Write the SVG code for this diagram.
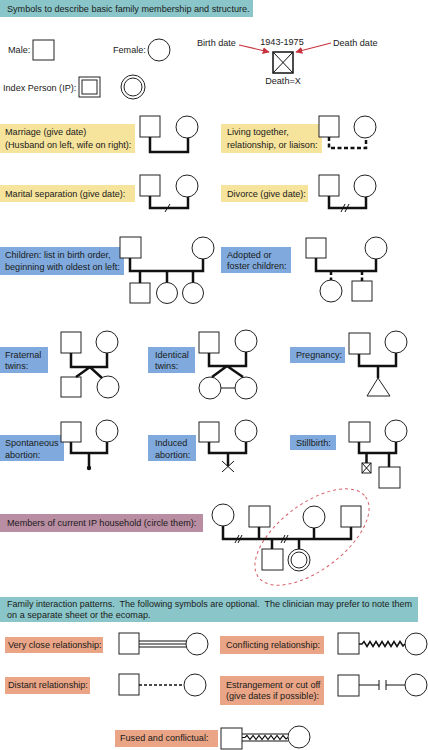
<svg xmlns="http://www.w3.org/2000/svg" width="428" height="750" viewBox="0 0 428 750">
<style>
.t{font-family:"Liberation Sans",Arial,sans-serif;font-size:9.1px;fill:#1a1a1a}
.pre{white-space:pre}
.s{fill:#fff;stroke:#222;stroke-width:1}
.ln{fill:none;stroke:#111;stroke-width:2.5}
.dl{fill:none;stroke:#111;stroke-width:2.5;stroke-dasharray:4,2.5}
.thin{fill:none;stroke:#111;stroke-width:1}
.teal{fill:#8ac6c9}.yel{fill:#f6e39c}.blu{fill:#80aadd}.mau{fill:#b98da2}.sal{fill:#e9a586}
.red{fill:none;stroke:#c8323c;stroke-width:1.2}
</style>
<defs>
<marker id="ar" viewBox="0 0 10 10" refX="9" refY="5" markerWidth="7" markerHeight="7" orient="auto" markerUnits="userSpaceOnUse">
<path d="M0,0 L10,5 L0,10 z" fill="#c8323c"/>
</marker>
</defs>
<rect width="428" height="750" fill="#fff"/>

<g id="header1"><rect class="teal" x="0" y="0" width="253" height="17"/><text class="t" x="7" y="12">Symbols to describe basic family membership and structure.</text></g>

<g id="male"><text class="t" x="8" y="53">Male:</text><rect class="s" x="33" y="40" width="21" height="20"/></g>
<g id="female"><text class="t" x="113" y="53">Female:</text><circle class="s" cx="159" cy="50" r="11"/></g>
<g id="ip"><text class="t" x="3" y="91">Index Person (IP):</text><rect class="s" x="79" y="77" width="21" height="20"/><rect class="s" x="82" y="80" width="15" height="14"/><circle class="s" cx="133" cy="87" r="12"/><circle class="s" cx="133" cy="87" r="9"/></g>
<g id="death">
<text class="t" x="282" y="45" text-anchor="middle">1943-1975</text>
<rect x="273" y="52" width="20" height="21" fill="#fff" stroke="#111" stroke-width="1.5"/>
<path class="thin" d="M273,52 L293,73 M293,52 L273,73"/>
<text class="t" x="283" y="84" text-anchor="middle">Death=X</text>
<text class="t" x="197" y="46">Birth date</text>
<text class="t" x="333" y="46">Death date</text>
</g>
<g id="arrows">
<line class="red" x1="239" y1="45" x2="269" y2="52" marker-end="url(#ar)"/>
<line class="red" x1="331" y1="43" x2="296" y2="52" marker-end="url(#ar)"/>
</g>

<g id="marriage"><rect class="yel" x="0" y="124" width="135" height="29"/><text class="t" x="5" y="135">Marriage (give date)</text><text class="t" x="5" y="148">(Husband on left, wife on right):</text>
<rect class="s" x="140" y="116" width="20" height="21"/><circle class="s" cx="187" cy="127" r="11"/></g>
<g id="living"><rect class="yel" x="221" y="124" width="101" height="29"/><text class="t" x="227" y="135">Living together,</text><text class="t" x="227" y="148">relationship, or liaison:</text>
<rect class="s" x="319" y="116" width="20" height="21"/><circle class="s" cx="365" cy="127" r="11"/></g>
<g id="separation"><rect class="yel" x="0" y="185" width="135" height="17"/><text class="t" x="5" y="197">Marital separation (give date):</text>
<rect class="s" x="140" y="175" width="20" height="21"/><circle class="s" cx="187" cy="186" r="11"/></g>
<g id="divorce"><rect class="yel" x="221" y="185" width="87" height="17"/><text class="t" x="227" y="197">Divorce (give date):</text>
<rect class="s" x="319" y="175" width="20" height="21"/><circle class="s" cx="365" cy="186" r="11"/></g>

<g id="children"><rect class="blu" x="0" y="247" width="124" height="28"/><text class="t" x="5" y="258">Children: list in birth order,</text><text class="t" x="5" y="270">beginning with oldest on left:</text>
<rect class="s" x="120" y="237" width="21" height="21"/><circle class="s" cx="203" cy="248" r="11"/>
<rect class="s" x="130" y="283" width="20" height="20"/><circle class="s" cx="167" cy="293" r="10.5"/><circle class="s" cx="193" cy="293" r="10.5"/></g>
<g id="adopted"><rect class="blu" x="221" y="247" width="70" height="26"/><text class="t" x="227" y="258">Adopted or</text><text class="t" x="227" y="269">foster children:</text>
<rect class="s" x="306" y="238" width="20" height="20"/><circle class="s" cx="376" cy="248" r="11"/>
<circle class="s" cx="331" cy="291" r="11"/><rect class="s" x="352" y="281" width="20" height="20"/></g>

<g id="fraternal"><rect class="blu" x="0" y="347" width="48" height="26"/><text class="t" x="5" y="358">Fraternal</text><text class="t" x="5" y="369">twins:</text>
<rect class="s" x="61" y="332" width="20" height="21"/><circle class="s" cx="107" cy="342" r="11"/>
<rect class="s" x="61" y="377" width="20" height="20"/><circle class="s" cx="108" cy="387" r="11"/></g>
<g id="identical"><rect class="blu" x="148" y="347" width="47" height="26"/><text class="t" x="155" y="358">Identical</text><text class="t" x="155" y="369">twins:</text>
<rect class="s" x="199" y="332" width="20" height="21"/><circle class="s" cx="246" cy="341" r="11"/>
<circle class="s" cx="210" cy="388" r="11"/><circle class="s" cx="246" cy="388" r="11"/></g>
<g id="pregnancy"><rect class="blu" x="290" y="347" width="55" height="16"/><text class="t" x="296" y="358">Pregnancy:</text>
<rect class="s" x="349" y="333" width="21" height="21"/><circle class="s" cx="396" cy="342" r="11"/>
<polygon class="s" points="378,378 367,396 390,396"/></g>

<g id="spontaneous"><rect class="blu" x="0" y="435" width="64" height="26"/><text class="t" x="5" y="446">Spontaneous</text><text class="t" x="5" y="458">abortion:</text>
<rect class="s" x="61" y="422" width="20" height="20"/><circle class="s" cx="107" cy="431" r="11"/></g>
<g id="induced"><rect class="blu" x="148" y="435" width="48" height="26"/><text class="t" x="155" y="446">Induced</text><text class="t" x="155" y="458">abortion:</text>
<rect class="s" x="199" y="422" width="20" height="20"/><circle class="s" cx="246" cy="431" r="11"/></g>
<g id="stillbirth"><rect class="blu" x="290" y="435" width="46" height="15"/><text class="t" x="296" y="446">Stillbirth:</text>
<rect class="s" x="349" y="422" width="21" height="20"/><circle class="s" cx="396" cy="431" r="11"/>
<rect class="s" x="362" y="463" width="9" height="10"/><path class="thin" d="M362,463 L371,473 M371,463 L362,473"/>
<rect class="s" x="379" y="467" width="21" height="21"/></g>

<g id="household"><rect class="mau" x="0" y="514" width="203" height="18"/><text class="t" x="7" y="526">Members of current IP household (circle them):</text>
<circle class="s" cx="223" cy="515" r="11"/><rect class="s" x="249" y="506" width="21" height="21"/><circle class="s" cx="314" cy="517" r="11"/><rect class="s" x="341" y="506" width="20" height="21"/>
<rect class="s" x="262" y="549" width="21" height="21"/><circle class="s" cx="299" cy="560" r="11"/><circle class="s" cx="299" cy="560" r="8"/>
<ellipse cx="312" cy="537" rx="67" ry="33" transform="rotate(-37 312 537)" fill="none" stroke="#d9606a" stroke-width="1" stroke-dasharray="3,3"/></g>

<g id="header2"><rect class="teal" x="0" y="597" width="418" height="25"/><text class="t pre" x="7" y="607" textLength="405" lengthAdjust="spacingAndGlyphs">Family interaction patterns.  The following symbols are optional.  The clinician may prefer to note them</text><text class="t" x="7" y="618">on a separate sheet or the ecomap.</text></g>

<g id="veryclose"><rect class="sal" x="5" y="637" width="98" height="16"/><text class="t" x="8" y="648">Very close relationship:</text>
<rect class="s" x="119" y="633" width="20" height="21"/><circle class="s" cx="197" cy="644" r="11"/></g>
<g id="conflicting"><rect class="sal" x="220" y="636" width="104" height="18"/><text class="t" x="226" y="648">Conflicting relationship:</text>
<rect class="s" x="338" y="633" width="21" height="21"/><circle class="s" cx="416" cy="644" r="11"/></g>
<g id="distant"><rect class="sal" x="5" y="677" width="85" height="17"/><text class="t" x="8" y="688">Distant relationship:</text>
<rect class="s" x="119" y="674" width="20" height="21"/><circle class="s" cx="195" cy="685" r="11"/></g>
<g id="estrangement"><rect class="sal" x="220" y="676" width="104" height="29"/><text class="t" x="226" y="688">Estrangement or cut off</text><text class="t" x="226" y="699">(give dates if possible):</text>
<rect class="s" x="338" y="675" width="21" height="21"/><circle class="s" cx="416" cy="685" r="11"/></g>
<g id="fused"><rect class="sal" x="115" y="730" width="103" height="17"/><text class="t" x="120" y="741">Fused and conflictual:</text>
<rect class="s" x="221" y="728" width="21" height="21"/><circle class="s" cx="299" cy="737" r="11"/></g>

<g id="connectors">
<path class="ln" d="M150,137 V152 H188 V138"/>
<path class="dl" d="M329,137 V148 H366 V138"/>
<path class="ln" d="M150,196 V208 H188 V197"/>
<path class="thin" stroke-width="1.2" d="M165,212 L170,204"/>
<path class="ln" d="M329,196 V208 H366 V197"/>
<path class="thin" stroke-width="1.2" d="M341,212 L345,204 M345,212 L349,204"/>
<path class="ln" d="M130,258 V271 H203 V259 M140,271 V283 M167,271 V282.5 M193,271 V282.5"/>
<path class="ln" d="M316,258 V271 H376 V259"/>
<path class="dl" d="M331,271 V280 M362,271 V281"/>
<path class="ln" d="M71,353 V367 H107 V353 M76,377 L90,367 L102,378"/>
<path class="ln" d="M209,353 V366 H246 V352 M212,377 L227,366 L243,377"/>
<path class="thin" stroke-width="1.5" d="M221,388 H235"/>
<path class="ln" d="M359,354 V366 H396 V353 M378,366 V378"/>
<path class="ln" d="M71,442 V453 H107 V442 M89,453 V468"/>
<circle cx="89" cy="468" r="2.2" fill="#111"/>
<path class="ln" d="M209,442 V453 H246 V442 M228,453 V466"/>
<path class="thin" stroke-width="1.3" d="M222,461 L234,472 M234,461 L222,472"/>
<path class="ln" d="M359,442 V453 H396 V442 M366.5,453 V463 M389,453 V467"/>
<path class="ln" d="M223,526 V539 H351 V527 M259,527 V539 M314,528 V539 M272,539 V549 M299,539 V549"/>
<path class="thin" stroke-width="1.2" d="M235,543 L239,535 M238,543 L242,535 M281,543 L285,535 M284,543 L288,535"/>
<path class="thin" stroke-width="0.8" d="M139,641 H186 M139,644 H186 M139,647 H186"/>
<path fill="none" stroke="#111" stroke-width="1.5" stroke-dasharray="3,2" d="M139,685 H184"/>
<polyline fill="none" stroke="#111" stroke-width="1.5" points="359,644 362,644 364,641.5 367,646.5 370,641.5 373,646.5 376,641.5 379,646.5 382,641.5 385,646.5 388,641.5 391,646.5 394,641.5 397,646.5 400,641.5 403,646 405,644"/>
<path class="thin" stroke-width="1.5" d="M359,685 H379 M379,680 V690 M386,680 V690 M386,685 H405"/>
<path class="thin" stroke-width="1" d="M242,734 H288 M242,741 H288"/>
<polyline fill="none" stroke="#111" stroke-width="1.2" points="242,737.5 245,737.5 247,735.5 250,739.5 253,735.5 256,739.5 259,735.5 262,739.5 265,735.5 268,739.5 271,735.5 274,739.5 277,735.5 280,739.5 283,735.5 286,739 288,737.5"/>
</g>
</svg>
